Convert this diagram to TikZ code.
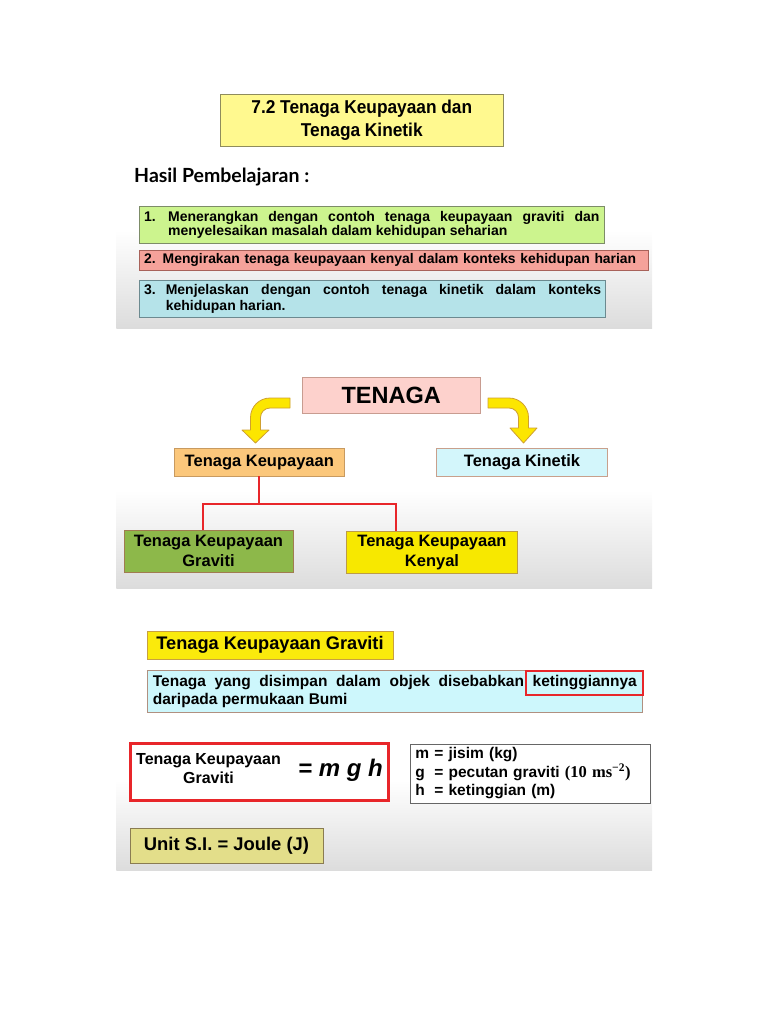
\documentclass[tikz,border=0pt]{standalone}
\usepackage[no-math]{fontspec}
\setmainfont{Liberation Sans}
\newfontfamily\narrowfont[FakeStretch=0.93]{Liberation Sans}
\newfontfamily\hasilfont{Lato}
\newfontfamily\unitfont{Liberation Serif}
\usetikzlibrary{positioning,calc}

\definecolor{titlefill}{HTML}{FFF98F}
\definecolor{titleedge}{HTML}{8F8C5C}
\definecolor{greenfill}{HTML}{CCF48E}
\definecolor{greenedge}{HTML}{7D8C68}
\definecolor{redfill}{HTML}{F5A29A}
\definecolor{rededge}{HTML}{A8625A}
\definecolor{bluefill}{HTML}{B5E3E9}
\definecolor{blueedge}{HTML}{6C8A90}
\definecolor{rootfill}{HTML}{FDD1CC}
\definecolor{rootedge}{HTML}{C89C90}
\definecolor{orangefill}{HTML}{FBC77B}
\definecolor{orangeedge}{HTML}{C89A60}
\definecolor{cyanfill}{HTML}{D3F6FB}
\definecolor{cyanedge}{HTML}{C8A08C}
\definecolor{gravfill}{HTML}{8DB84A}
\definecolor{gravedge}{HTML}{A07C50}
\definecolor{kenyalfill}{HTML}{F7E800}
\definecolor{kenyaledge}{HTML}{BC9C48}
\definecolor{tkgfill}{HTML}{FAEA0C}
\definecolor{tkgedge}{HTML}{C8A040}
\definecolor{deffill}{HTML}{CDF7FC}
\definecolor{defedge}{HTML}{B09080}
\definecolor{unitfill}{HTML}{E3DE8A}
\definecolor{unitedge}{HTML}{8A7C52}
\definecolor{hired}{HTML}{E8262A}
\definecolor{arrowfill}{HTML}{FCE600}
\definecolor{arrowedge}{HTML}{CFA030}
\definecolor{panelgrey}{HTML}{DCDCDC}

\begin{document}
\begin{tikzpicture}[x=1pt,y=-1pt,
  every node/.style={inner sep=0pt,align=center},
  box/.style={draw,line width=0.8pt},
  txt/.style={font={\fontsize{#1}{#1}\selectfont\bfseries}},
  treeline/.style={draw=hired,line width=2.2pt},
  bigarrow/.style={fill=arrowfill,draw=arrowedge,line width=0.8pt,line join=round}
]
  \useasboundingbox (0,0) rectangle (768,1024);

  % panels
  \foreach \top/\mid/\bot in {84/230/328,358/490/588.3,618/780/870.7}{
    \fill[white] (116.3,\top) rectangle (652,\mid);
    \shade[top color=white,bottom color=panelgrey]
      (116.3,\mid) rectangle (652,\bot);
  }

  % 7.2 title
  \node[box,fill=titlefill,draw=titleedge,minimum width=283.8pt,minimum height=52.7pt,
        font={\fontsize{18.6}{23.3}\selectfont\narrowfont\bfseries}]
    (title) at (361.8,120.35) {7.2 Tenaga Keupayaan dan\\Tenaga Kinetik};

  \node[anchor=base west,font={\fontsize{19.5}{19.5}\selectfont\hasilfont\bfseries}]
    (hasil) at (134,182.7) {Hasil Pembelajaran :};

  % learning outcomes
  \node[box,fill=greenfill,draw=greenedge,minimum width=465.8pt,minimum height=36.6pt,
        font={\fontsize{14}{14.6}\selectfont\bfseries}]
    (hp1) at (371.8,225)
    {\makebox[24pt][l]{1.}\parbox[t]{431.4pt}{Menerangkan dengan contoh tenaga keupayaan graviti dan\linebreak
     menyelesaikan masalah dalam kehidupan seharian}};
  \node[box,fill=redfill,draw=rededge,minimum width=509.1pt,minimum height=20.7pt,
        text width=500pt,align=left,font={\fontsize{13.9}{14.6}\selectfont\bfseries}]
    (hp2) at (394.15,260.35)
    {2. Mengirakan tenaga keupayaan kenyal dalam konteks kehidupan harian};
  \node[box,fill=bluefill,draw=blueedge,minimum width=466.2pt,minimum height=37.3pt,
        font={\fontsize{14}{15.7}\selectfont\bfseries}]
    (hp3) at (372.7,298.65)
    {\makebox[21.6pt][l]{3.}\parbox[t]{435.4pt}{Menjelaskan dengan contoh tenaga kinetik dalam konteks\linebreak
     kehidupan harian.}};

  % tree
  \node[box,fill=rootfill,draw=rootedge,minimum width=178.4pt,minimum height=36pt,txt=23.5]
    (tenaga) at (391.2,395.3) {TENAGA};
  \node[box,fill=orangefill,draw=orangeedge,minimum width=169.8pt,minimum height=27.7pt,txt=16.5]
    (tk) at (259.3,462.15) {Tenaga Keupayaan};
  \node[box,fill=cyanfill,draw=cyanedge,minimum width=170.4pt,minimum height=27.7pt,txt=16.5]
    (kin) at (522,462.15) {Tenaga Kinetik};
  \node[box,fill=gravfill,draw=gravedge,minimum width=169pt,minimum height=42.3pt,
        font={\fontsize{16.5}{20}\selectfont\bfseries}]
    (grav) at (208.5,551.15) {Tenaga Keupayaan\\Graviti};
  \node[box,fill=kenyalfill,draw=kenyaledge,minimum width=170.8pt,minimum height=42.3pt,
        font={\fontsize{16.5}{20}\selectfont\bfseries}]
    (kenyal) at (432,552.15) {Tenaga Keupayaan\\Kenyal};

  % curved arrows
  \draw[bigarrow] (290,398) -- (270,398) arc(270:180:19.5) -- (250.5,430) -- (242,430)
    -- (255.5,443) -- (269,430) -- (260.5,430) -- (260.5,417.5) arc(180:270:9.5)
    -- (290,408) -- cycle;
  \draw[bigarrow] (488,398) -- (509,398) arc(270:360:19.5) -- (528.5,428) -- (537,428)
    -- (523.5,443) -- (510,428) -- (518.5,428) -- (518.5,417.5) arc(0:-90:9.5)
    -- (488,408) -- cycle;

  \coordinate (jl) at (202.6,504);
  \coordinate (jr) at (396.3,504);
  \draw[treeline] (tk.south) -- (tk.south |- jl);
  \draw[treeline] (jl |- grav.north) -- (jl) -- (jr) -- (jr |- kenyal.north);

  % definition
  \node[box,fill=tkgfill,draw=tkgedge,minimum width=246pt,minimum height=28pt,txt=18.2]
    (tkg) at (270,645) {Tenaga Keupayaan Graviti};
  \node[box,fill=deffill,draw=defedge,minimum width=495.7pt,minimum height=41.3pt,
        text width=484pt,align=justify,font={\fontsize{15.5}{18.7}\selectfont\bfseries}]
    (def) at (394.85,691.35)
    {Tenaga yang disimpan dalam objek disebabkan ketinggiannya\linebreak
     daripada permukaan Bumi};
  \draw[hired,line width=1.6pt] (526,670.7) rectangle (642.7,695);

  % formula
  \node[draw=hired,line width=3pt,fill=white,minimum width=258.9pt,minimum height=56.7pt]
    (formula) at (259.45,771.65) {};
  \node[font={\fontsize{16}{18.7}\selectfont\bfseries}]
    (tkglabel) at (208.5,768.5) {Tenaga Keupayaan\\Graviti};
  \node[font={\fontsize{24}{24}\selectfont\bfseries\itshape}]
    (mgh) at (340.5,770) {= m g h};

  \node[box,draw=gray!80!black,line width=0.8pt,fill=white,minimum width=240.1pt,minimum height=59.3pt,
        text width=230pt,align=left,font={\fontsize{15.5}{18}\selectfont\bfseries}]
    (vars) at (530.45,773.65)
    {\begin{tabular}{@{}l@{\ }l@{}}
      m & = jisim (kg)\\
      g & = pecutan graviti {\unitfont\bfseries\fontsize{16.5}{18}\selectfont(10 ms\textsuperscript{−2})}\\
      h & = ketinggian (m)
     \end{tabular}};

  % unit
  \node[box,fill=unitfill,draw=unitedge,minimum width=193pt,minimum height=35pt,txt=18.4]
    (unit) at (226.5,845.8) {Unit S.I. = Joule (J)};
\end{tikzpicture}
\end{document}
